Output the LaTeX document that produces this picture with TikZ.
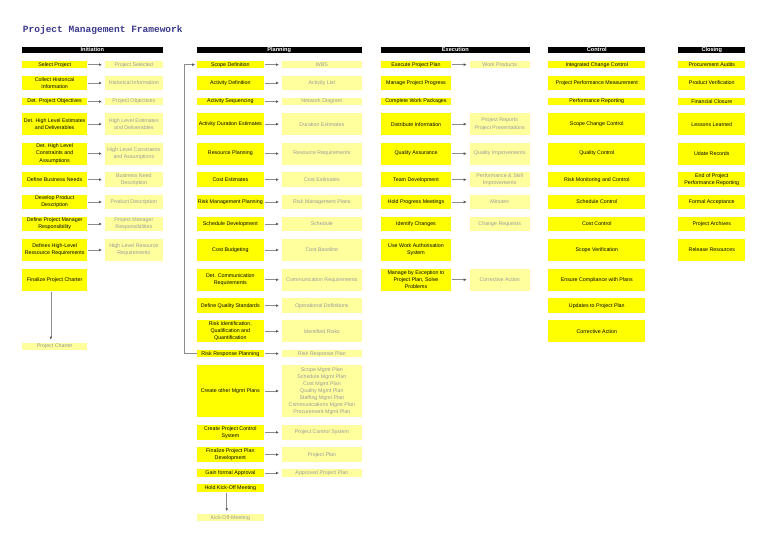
\documentclass[tikz,border=0pt]{standalone}
\usepackage{fontspec}
\setmainfont{Liberation Sans}
\newfontfamily\titlefont{Liberation Mono}
\usetikzlibrary{arrows.meta}
\definecolor{hiyel}{HTML}{FFFF00}
\definecolor{loyel}{HTML}{FFFF9E}
\definecolor{outtxt}{HTML}{9A9A9A}
\definecolor{titleblue}{HTML}{3A3A8C}
\definecolor{lnk}{HTML}{8C8C8C}
\newcommand{\cell}[7]{\node[#2, minimum width={#4pt-#3pt}, minimum height={#6pt-#5pt}, anchor=north west] (#1) at (#3,#5) {#7};}
\begin{document}
\begin{tikzpicture}[x=1pt,y=-1pt,
  every node/.style={inner sep=0pt, outer sep=0pt},
  task/.style={fill=hiyel, align=center, text=black, font=\fontsize{5.3}{7.1}\selectfont},
  outp/.style={fill=loyel, align=center, text=outtxt, font=\fontsize{5.3}{7.1}\selectfont},
  phase/.style={fill=black, text=white, font=\bfseries\fontsize{5.6}{6}\selectfont},
  conn/.style={draw=lnk, line width=0.6pt, -{Latex[length=3pt,width=2.8pt,color=black!65]}, shorten <=1pt, shorten >=3pt},
  loop/.style={draw=lnk, line width=0.6pt, -{Latex[length=3pt,width=2.8pt,color=black!65]}, shorten >=1.5pt}]
\fill[white] (0,0) rectangle (768,542);
\useasboundingbox (0,0) rectangle (768,542);
\node[anchor=base west, text=titleblue, font=\titlefont\bfseries\fontsize{9.5}{10}\selectfont] (title) at (23,32.6) {Project Management Framework};
% headers
\cell{hI}{phase}{22}{162.7}{46.5}{53}{Initiation}
\cell{hP}{phase}{196.7}{361.7}{46.5}{53}{Planning}
\cell{hE}{phase}{381}{529.7}{46.5}{53}{Execution}
\cell{hC}{phase}{548.3}{645.3}{46.5}{53}{Control}
\cell{hL}{phase}{678.3}{745.3}{46.5}{53}{Closing}
% Initiation
\cell{i1}{task}{22}{87.3}{61.3}{68}{Select Project}
\cell{i2}{task}{22}{87.3}{75.7}{90.3}{Collect Historical\\Information}
\cell{i3}{task}{22}{87.3}{98.2}{105}{Det. Project Objectives}
\cell{i4}{task}{22}{87.3}{113.3}{135}{Det. High Level Estimates\\and Deliverables}
\cell{i5}{task}{22}{87.3}{142.7}{164.5}{Det. High Level\\Constraints and\\Assumptions}
\cell{i6}{task}{22}{87.3}{172.3}{187}{Define Business Needs}
\cell{i7}{task}{22}{87.3}{194.7}{209.3}{Develop Product\\Description}
\cell{i8}{task}{22}{87.3}{216.7}{231.3}{Define Project Manager\\Responsibility}
\cell{i9}{task}{22}{87.3}{239}{261}{Defines High-Level\\Ressource Requirements}
\cell{i10}{task}{22}{87.3}{268.7}{290.7}{Finalize Project Charter}
\cell{io1}{outp}{105}{162.7}{61.3}{68}{Project Selected}
\cell{io2}{outp}{105}{162.7}{75.7}{90.3}{Historical Information}
\cell{io3}{outp}{105}{162.7}{98.2}{105}{Project Objectives}
\cell{io4}{outp}{105}{162.7}{113.3}{135}{High Level Estimates\\and Deliverables}
\cell{io5}{outp}{105}{162.7}{142.7}{164.5}{High Level Constraints\\and Assumptions}
\cell{io6}{outp}{105}{162.7}{172.3}{187}{Business Need\\Description}
\cell{io7}{outp}{105}{162.7}{194.7}{209.3}{Product Description}
\cell{io8}{outp}{105}{162.7}{216.7}{231.3}{Project Manager\\Responsibilities}
\cell{io9}{outp}{105}{162.7}{239}{261}{High Level Resource\\Requirements}
\cell{ic}{outp}{22}{87.3}{342.7}{350.3}{Project Charter}
\foreach \k in {1,...,9}{\draw[conn] (i\k.east) -- (io\k.west);}
\draw[conn] ([xshift=-3.8pt]i10.south) -- ([xshift=-3.8pt]ic.north);
% Planning
\cell{p1}{task}{196.7}{264}{61.3}{68}{Scope Definition}
\cell{p2}{task}{196.7}{264}{75.7}{90.3}{Activity Definition}
\cell{p3}{task}{196.7}{264}{98.2}{105}{Activity Sequencing}
\cell{p4}{task}{196.7}{264}{113.3}{135}{Activity Duration Estimates}
\cell{p5}{task}{196.7}{264}{142.7}{164.5}{Resource Planning}
\cell{p6}{task}{196.7}{264}{172.3}{187}{Cost Estimates}
\cell{p7}{task}{196.7}{264}{194.7}{209.3}{Risk Management Planning}
\cell{p8}{task}{196.7}{264}{216.7}{231.3}{Schedule Development}
\cell{p9}{task}{196.7}{264}{239}{261}{Cost Budgeting}
\cell{p10}{task}{196.7}{264}{268.7}{290.7}{Det. Communication\\Requirements}
\cell{p11}{task}{196.7}{264}{298.3}{313}{Define Quality Standards}
\cell{p12}{task}{196.7}{264}{320.3}{342.3}{Risk Identification,\\Qualification and\\Quantification}
\cell{p13}{task}{196.7}{264}{350}{357.3}{Risk Response Planning}
\cell{p14}{task}{196.7}{264}{365}{417}{Create other Mgmt Plans}
\cell{p15}{task}{196.7}{264}{425}{439.7}{Create Project Control\\System}
\cell{p16}{task}{196.7}{264}{447.3}{462}{Finalize Project Plan\\Development}
\cell{p17}{task}{196.7}{264}{469.3}{476.7}{Gain formal Approval}
\cell{p18}{task}{196.7}{264}{484}{491.7}{Hold Kick-Off Meeting}
\cell{pk}{outp}{196.7}{264}{514.3}{521}{Kick-Off-Meeting}
\cell{po1}{outp}{282}{361.7}{61.3}{68}{WBS}
\cell{po2}{outp}{282}{361.7}{75.7}{90.3}{Activity List}
\cell{po3}{outp}{282}{361.7}{98.2}{105}{Network Diagram}
\cell{po4}{outp}{282}{361.7}{113.3}{135}{Duration Estimates}
\cell{po5}{outp}{282}{361.7}{142.7}{164.5}{Resource Requirements}
\cell{po6}{outp}{282}{361.7}{172.3}{187}{Cost Estimates}
\cell{po7}{outp}{282}{361.7}{194.7}{209.3}{Risk Management Plans}
\cell{po8}{outp}{282}{361.7}{216.7}{231.3}{Schedule}
\cell{po9}{outp}{282}{361.7}{239}{261}{Cost Baseline}
\cell{po10}{outp}{282}{361.7}{268.7}{290.7}{Communication Requirements}
\cell{po11}{outp}{282}{361.7}{298.3}{313}{Operational Definitions}
\cell{po12}{outp}{282}{361.7}{320.3}{342.3}{Identified Risks}
\cell{po13}{outp}{282}{361.7}{350}{357.3}{Risk Response Plan}
\cell{po14}{outp}{282}{361.7}{365}{417}{Scope Mgmt Plan\\Schedule Mgmt Plan\\Cost Mgmt Plan\\Quality Mgmt Plan\\Staffing Mgmt Plan\\Communications Mgmt Plan\\Procurement Mgmt Plan}
\cell{po15}{outp}{282}{361.7}{425}{439.7}{Project Control System}
\cell{po16}{outp}{282}{361.7}{447.3}{462}{Project Plan}
\cell{po17}{outp}{282}{361.7}{469.3}{476.7}{Approved Project Plan}
\foreach \k in {1,...,17}{\draw[conn] (p\k.east) -- (po\k.west);}
\draw[conn] ([xshift=-3.6pt]p18.south) -- ([xshift=-3.6pt]pk.north);
\draw[loop] (p13.west) -- ++(-12.4,0) |- (p1.west);
% Execution
\cell{e1}{task}{381}{451}{61.3}{68}{Execute Project Plan}
\cell{e2}{task}{381}{451}{75.7}{90.3}{Manage Project Progress}
\cell{e3}{task}{381}{451}{98.2}{105}{Complete Work Packages}
\cell{e4}{task}{381}{451}{113.3}{135}{Distribute Information}
\cell{e5}{task}{381}{451}{142.7}{164.5}{Quality Assurance}
\cell{e6}{task}{381}{451}{172.3}{187}{Team Development}
\cell{e7}{task}{381}{451}{194.7}{209.3}{Hold Progress Meetings}
\cell{e8}{task}{381}{451}{216.7}{231.3}{Identify Changes}
\cell{e9}{task}{381}{451}{239}{261}{Use Work Authorisation\\System}
\cell{e10}{task}{381}{451}{268.7}{290.7}{Manage by Exception to\\Project Plan, Solve\\Problems}
\cell{eo1}{outp}{469.7}{529.7}{61.3}{68}{Work Products}
\cell{eo4}{outp}{469.7}{529.7}{113.3}{135}{Project Reports\\Project Presentations}
\cell{eo5}{outp}{469.7}{529.7}{142.7}{164.5}{Quality Improvements}
\cell{eo6}{outp}{469.7}{529.7}{172.3}{187}{Performance \& Skill\\Improvements}
\cell{eo7}{outp}{469.7}{529.7}{194.7}{209.3}{Minutes}
\cell{eo8}{outp}{469.7}{529.7}{216.7}{231.3}{Change Requests}
\cell{eo10}{outp}{469.7}{529.7}{268.7}{290.7}{Corrective Action}
\foreach \k in {1,4,5,6,7,10}{\draw[conn] (e\k.east) -- (eo\k.west);}
% Control
\cell{c1}{task}{548.3}{645.3}{61.3}{68}{Integrated Change Control}
\cell{c2}{task}{548.3}{645.3}{75.7}{90.3}{Project Performance Measurement}
\cell{c3}{task}{548.3}{645.3}{98.2}{105}{Performance Reporting}
\cell{c4}{task}{548.3}{645.3}{113.3}{135}{Scope Change Control}
\cell{c5}{task}{548.3}{645.3}{142.7}{164.5}{Quality Control}
\cell{c6}{task}{548.3}{645.3}{172.3}{187}{Risk Monitoring and Control}
\cell{c7}{task}{548.3}{645.3}{194.7}{209.3}{Schedule Control}
\cell{c8}{task}{548.3}{645.3}{216.7}{231.3}{Cost Control}
\cell{c9}{task}{548.3}{645.3}{239}{261}{Scope Verification}
\cell{c10}{task}{548.3}{645.3}{268.7}{290.7}{Ensure Compliance with Plans}
\cell{c11}{task}{548.3}{645.3}{298.3}{313}{Updates to Project Plan}
\cell{c12}{task}{548.3}{645.3}{320.3}{342.3}{Corrective Action}
% Closing
\cell{l1}{task}{678.3}{745.3}{61.3}{68}{Procurement Audits}
\cell{l2}{task}{678.3}{745.3}{75.7}{90.3}{Product Verification}
\cell{l3}{task}{678.3}{745.3}{98.2}{105}{Financial Closure}
\cell{l4}{task}{678.3}{745.3}{113.3}{135}{Lessons Learned}
\cell{l5}{task}{678.3}{745.3}{142.7}{164.5}{Udate Records}
\cell{l6}{task}{678.3}{745.3}{172.3}{187}{End of Project\\Performance Reporting}
\cell{l7}{task}{678.3}{745.3}{194.7}{209.3}{Formal Acceptance}
\cell{l8}{task}{678.3}{745.3}{216.7}{231.3}{Project Archives}
\cell{l9}{task}{678.3}{745.3}{239}{261}{Release Resources}
\end{tikzpicture}
\end{document}
